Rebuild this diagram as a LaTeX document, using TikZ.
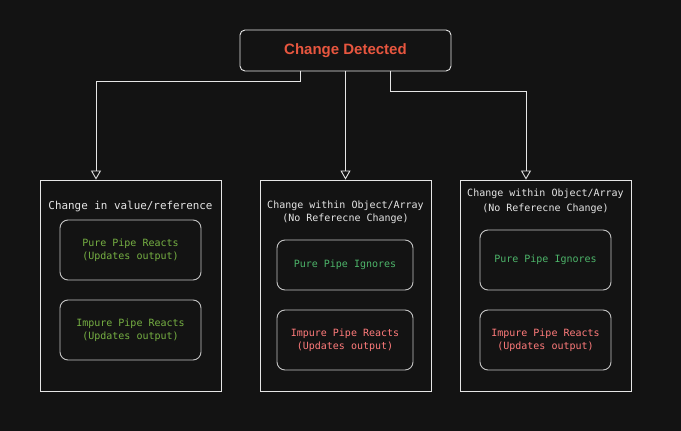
\documentclass[tikz,border=0pt]{standalone}
\usepackage{fontspec}
\usepackage{tikz}
\usetikzlibrary{arrows.meta, positioning}
\newfontfamily\monofont{DejaVu Sans Mono}
\newfontfamily\headfont{Liberation Sans}
\definecolor{bgdark}{HTML}{131313}
\definecolor{linegray}{HTML}{E6E6E6}
\definecolor{headred}{HTML}{E8563F}
\definecolor{leafgreen}{HTML}{76B043}
\definecolor{mintgreen}{HTML}{4DB56A}
\definecolor{softred}{HTML}{FF7B7B}

\begin{document}
\begin{tikzpicture}[
    x=1pt, y=-1pt,
    top/.style={rectangle, draw=linegray, line width=0.9pt, rounded corners=5pt, minimum width=211pt, minimum height=41pt, inner sep=0pt, font=\headfont\bfseries\fontsize{15}{18}\selectfont, text=headred},
    group/.style={rectangle, draw=linegray, line width=0.9pt, minimum height=211pt, inner sep=0pt},
    caption/.style={align=center, inner sep=0pt, text=linegray, font=\monofont\fontsize{10}{13.5}\selectfont},
    leaf/.style={rectangle, draw=linegray!85!black, line width=0.9pt, rounded corners=8pt, align=center, inner sep=0pt, minimum width=#1, font=\monofont\fontsize{10}{13}\selectfont},
    arrow/.style={-{Triangle[open, width=10pt, length=9pt]}, draw=linegray, line width=0.9pt}
]

% Background
\fill [bgdark] (0,0) rectangle (681,431);

% Nodes
\node [top] (detect) at (345.5,50.5) {Change Detected};

\node [group, minimum width=181pt] (value) at (130.5,285.5) {};
\node [group, minimum width=171pt] (within) at (345.5,285.5) {};
\node [group, minimum width=171pt] (nochange) at (545.5,285.5) {};

\node [caption, font=\monofont\fontsize{10.9}{13.5}\selectfont] (valuetitle) at (130.5,206) {Change in value/reference};
\node [caption] (withintitle) at (345.5,212.5) {Change within Object/Array\\(No Referecne Change)};
\node [caption, font=\monofont\fontsize{10}{14.5}\selectfont] (nochangetitle) at (545.5,201.5) {Change within Object/Array\\(No Referecne Change)};

\node [leaf=141pt, minimum height=60pt, text=leafgreen] (valuepure) at (130.5,250) {Pure Pipe Reacts\\(Updates output)};
\node [leaf=141pt, minimum height=60pt, text=leafgreen] (valueimpure) at (130.5,330) {Impure Pipe Reacts\\(Updates output)};

\node [leaf=136pt, minimum height=50pt, text=mintgreen] (withinpure) at (345,265) {Pure Pipe Ignores};
\node [leaf=136pt, minimum height=60pt, text=softred] (withinimpure) at (345,340) {Impure Pipe Reacts\\(Updates output)};

\node [leaf=131pt, minimum height=60pt, text=mintgreen] (nochangepure) at (545.5,260) {Pure Pipe Ignores};
\node [leaf=131pt, minimum height=60pt, text=softred] (nochangeimpure) at (545.5,340) {Impure Pipe Reacts\\(Updates output)};

% Paths
\draw [arrow] ([xshift=-45.5pt]detect.south) -- ++(0,9.5) -| ([xshift=-34.5pt]value.north);
\draw [arrow] (detect.south) -- (within.north);
\draw [arrow] ([xshift=44.5pt]detect.south) -- ++(0,19.5) -| ([xshift=-19.5pt]nochange.north);

\end{tikzpicture}
\end{document}
